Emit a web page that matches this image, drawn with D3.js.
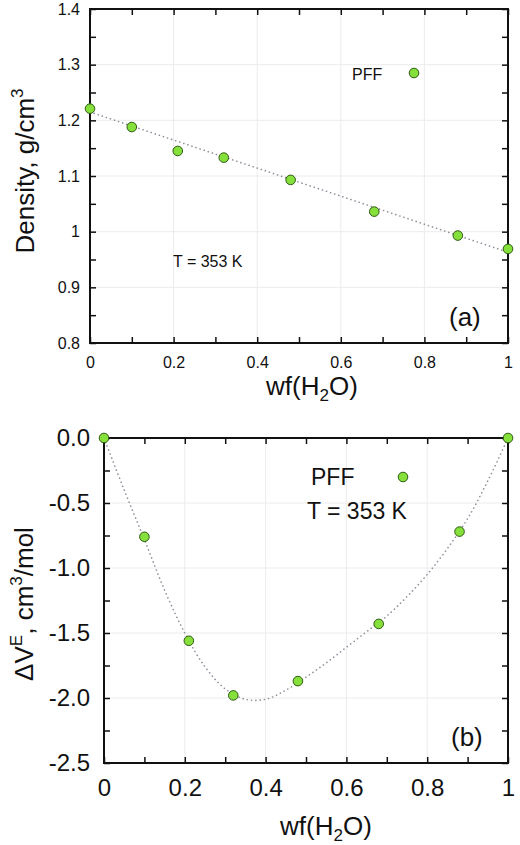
<!DOCTYPE html>
<html>
<head>
<meta charset="utf-8">
<script src="https://cdn.jsdelivr.net/npm/d3@7"></script>
<style>
  body { margin: 0; background: #fff; }
  svg { display: block; font-family: "Liberation Sans", Arial, sans-serif; }
</style>
</head>
<body>
<script>
// data
var wf = [0, 0.10, 0.21, 0.32, 0.48, 0.68, 0.88, 1.0];
var density = [1.221, 1.188, 1.145, 1.133, 1.093, 1.036, 0.993, 0.969];
var excessVolume = [0, -0.76, -1.56, -1.98, -1.87, -1.43, -0.72, 0];

// dotted fit lines
var densityFitX = [0, 1];
var densityFitY = [1.215, 0.963];
var volumeFitX = [0, 0.05, 0.1, 0.15, 0.2, 0.25, 0.3, 0.35, 0.4, 0.45, 0.5,
                  0.55, 0.6, 0.65, 0.7, 0.75, 0.8, 0.85, 0.9, 0.95, 1.0];
var volumeFitY = [0, -0.40, -0.78, -1.17, -1.50, -1.76, -1.93, -2.01, -2.01, -1.94, -1.84,
                  -1.73, -1.61, -1.49, -1.37, -1.22, -1.05, -0.85, -0.62, -0.33, 0];

// ticks
var xTicks = [0, 0.2, 0.4, 0.6, 0.8, 1];
var xTickLabels = ['0', '0.2', '0.4', '0.6', '0.8', '1'];
var densityTicks = [0.8, 0.9, 1, 1.1, 1.2, 1.3, 1.4];
var densityTickLabels = ['0.8', '0.9', '1', '1.1', '1.2', '1.3', '1.4'];
var volumeTicks = [-2.5, -2, -1.5, -1, -0.5, 0];
var volumeTickLabels = ['-2.5', '-2.0', '-1.5', '-1.0', '-0.5', '0.0'];

var w = 520, h = 845;
var fill = '#86e03c', edge = '#2f5a12';

var svg = d3.select('body').append('svg')
    .attr('width', w)
    .attr('height', h);

function panel(opt) {
    var x = d3.scaleLinear().domain([0, 1]).range([opt.left, opt.right]);
    var y = d3.scaleLinear().domain(opt.yDomain).range([opt.bottom, opt.top]);
    var g = svg.append('g');

    // faint grid
    g.selectAll('.gx').data(xTicks.slice(1, -1)).enter().append('line')
        .attr('x1', d => x(d)).attr('x2', d => x(d))
        .attr('y1', opt.top).attr('y2', opt.bottom)
        .attr('stroke', '#ececec').attr('stroke-width', 1);
    g.selectAll('.gy').data(opt.yTicks.slice(1, -1)).enter().append('line')
        .attr('x1', opt.left).attr('x2', opt.right)
        .attr('y1', d => y(d)).attr('y2', d => y(d))
        .attr('stroke', '#ececec').attr('stroke-width', 1);

    // minor + major ticks on all sides, pointing inward
    var allX = d3.range(0, 1.0001, 0.1);
    var allY = opt.minorY;
    var tk = 6;
    function tickAxis(axis, tr) {
        g.append('g').attr('transform', tr)
            .call(axis.tickSize(-tk).tickFormat(''))
            .call(a => a.select('.domain').remove())
            .call(a => a.selectAll('line').attr('stroke', '#111').attr('stroke-width', 1.5));
    }
    tickAxis(d3.axisBottom(x).tickValues(allX), 'translate(0,' + opt.bottom + ')');
    tickAxis(d3.axisTop(x).tickValues(allX), 'translate(0,' + opt.top + ')');
    tickAxis(d3.axisLeft(y).tickValues(allY), 'translate(' + opt.left + ',0)');
    tickAxis(d3.axisRight(y).tickValues(allY), 'translate(' + opt.right + ',0)');

    // tick labels
    var xa = g.append('g').attr('transform', 'translate(0,' + opt.bottom + ')')
        .call(d3.axisBottom(x).tickValues(xTicks).tickSize(0).tickPadding(opt.xPad)
            .tickFormat((d, i) => xTickLabels[i]));
    xa.select('.domain').remove();
    xa.selectAll('text').attr('font-size', opt.tickFont).attr('fill', '#111')
        .attr('font-family', '"Liberation Sans", Arial, sans-serif');

    var ya = g.append('g').attr('transform', 'translate(' + opt.left + ',0)')
        .call(d3.axisLeft(y).tickValues(opt.yTicks).tickSize(0).tickPadding(opt.yPad)
            .tickFormat((d, i) => opt.yTickLabels[i]));
    ya.select('.domain').remove();
    ya.selectAll('text').attr('font-size', opt.tickFont).attr('fill', '#111')
        .attr('font-family', '"Liberation Sans", Arial, sans-serif');

    // frame
    g.append('rect')
        .attr('x', opt.left).attr('y', opt.top)
        .attr('width', opt.right - opt.left).attr('height', opt.bottom - opt.top)
        .attr('fill', 'none').attr('stroke', '#111').attr('stroke-width', 2);

    // fit line
    var line = d3.line().x(d => x(d[0])).y(d => y(d[1])).curve(d3.curveCatmullRom);
    g.append('path')
        .datum(d3.zip(opt.fitX, opt.fitY))
        .attr('d', line)
        .attr('fill', 'none')
        .attr('stroke', '#8e8e9c')
        .attr('stroke-width', 1.6)
        .attr('stroke-linecap', 'round')
        .attr('stroke-dasharray', '0.1,4.2');

    // points
    g.selectAll('.pt').data(d3.zip(wf, opt.values)).enter().append('circle')
        .attr('cx', d => x(d[0]))
        .attr('cy', d => y(d[1]))
        .attr('r', 4.8)
        .attr('fill', fill)
        .attr('stroke', edge)
        .attr('stroke-width', 1);

    // x title
    var xt = g.append('text')
        .attr('x', opt.xTitle[0]).attr('y', opt.xTitle[1])
        .attr('text-anchor', 'middle')
        .attr('font-size', 26).attr('fill', '#111');
    xt.append('tspan').text('wf(H');
    xt.append('tspan').text('2').attr('font-size', 17).attr('dy', 6);
    xt.append('tspan').text('O)').attr('dy', -6);

    return { g: g, x: x, y: y };
}

// (a) density
var a = panel({
    left: 90, right: 508, top: 9, bottom: 343,
    yDomain: [0.8, 1.4],
    yTicks: densityTicks, yTickLabels: densityTickLabels,
    minorY: d3.range(0.8, 1.4001, 0.05),
    tickFont: 16, xPad: 14, yPad: 10,
    fitX: densityFitX, fitY: densityFitY,
    values: density,
    xTitle: [312, 395]
});

var yl = a.g.append('text')
    .attr('transform', 'translate(34,171) rotate(-90)')
    .attr('text-anchor', 'middle')
    .attr('font-size', 26).attr('fill', '#111');
yl.append('tspan').text('Density, g/cm');
yl.append('tspan').text('3').attr('font-size', 17).attr('dy', -11);

a.g.append('text').attr('x', 352).attr('y', 80)
    .attr('font-size', 16).attr('fill', '#111').text('PFF');
a.g.append('circle').attr('cx', 414).attr('cy', 73).attr('r', 4.8)
    .attr('fill', fill).attr('stroke', edge).attr('stroke-width', 1);
a.g.append('text').attr('x', 173).attr('y', 267)
    .attr('font-size', 16).attr('fill', '#111').text('T = 353 K');
a.g.append('text').attr('x', 449).attr('y', 326)
    .attr('font-size', 26).attr('fill', '#111').text('(a)');

// (b) excess volume
var b = panel({
    left: 104, right: 508, top: 438, bottom: 763,
    yDomain: [-2.5, 0],
    yTicks: volumeTicks, yTickLabels: volumeTickLabels,
    minorY: d3.range(-2.5, 0.0001, 0.25),
    tickFont: 24, xPad: 16, yPad: 14,
    fitX: volumeFitX, fitY: volumeFitY,
    values: excessVolume,
    xTitle: [326, 835]
});

var yl2 = b.g.append('text')
    .attr('transform', 'translate(33,604) rotate(-90)')
    .attr('text-anchor', 'middle')
    .attr('font-size', 26).attr('fill', '#111');
yl2.append('tspan').text('\u0394V');
yl2.append('tspan').text('E').attr('font-size', 17).attr('dy', -11);
yl2.append('tspan').text(', cm').attr('dy', 11);
yl2.append('tspan').text('3').attr('font-size', 17).attr('dy', -11);
yl2.append('tspan').text('/mol').attr('dy', 11);

b.g.append('text').attr('x', 311).attr('y', 485)
    .attr('font-size', 23).attr('fill', '#111').text('PFF');
b.g.append('circle').attr('cx', 403).attr('cy', 477).attr('r', 4.8)
    .attr('fill', fill).attr('stroke', edge).attr('stroke-width', 1);
b.g.append('text').attr('x', 307).attr('y', 519)
    .attr('font-size', 23).attr('fill', '#111').text('T = 353 K');
b.g.append('text').attr('x', 451).attr('y', 746)
    .attr('font-size', 26).attr('fill', '#111').text('(b)');
</script>
</body>
</html>
